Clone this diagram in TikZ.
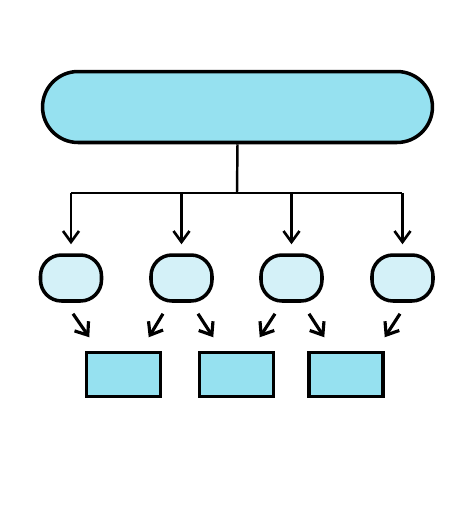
\documentclass[tikz,border=0pt]{standalone}
\usepackage{tikz}
\usetikzlibrary{arrows.meta}

\definecolor{cyanmain}{RGB}{150,225,240}
\definecolor{cyanpale}{RGB}{212,241,248}

\begin{document}
\begin{tikzpicture}[x=0.02cm,y=-0.02cm,
        box/.style={draw,line width=2pt,inner sep=0pt},
        head/.style={box,fill=cyanmain,minimum width=7.8cm,minimum height=1.42cm,rounded corners=0.71cm},
        sub/.style={box,fill=cyanpale,minimum width=1.22cm,minimum height=0.92cm,rounded corners=0.42cm},
        leaf/.style={box,fill=cyanmain,minimum width=1.48cm,minimum height=0.88cm},
        link/.style={line width=1.4pt,-{Straight Barb[length=0.22cm,width=0.32cm,line width=1.5pt]}},
        diag/.style={line width=1.8pt,-{Straight Barb[length=0.22cm,width=0.34cm,line width=1.8pt]}}
    ]
    \useasboundingbox (0,0) rectangle (474,505);
    \node[head](top) at (237.5,107) {};
    \node[sub](s1) at (71,278) {};
    \node[sub](s2) at (181.5,278) {};
    \node[sub](s3) at (291.5,278) {};
    \node[sub](s4) at (402.5,278) {};
    \node[leaf](r1) at (123.5,374.5) {};
    \node[leaf](r2) at (236.5,374.5) {};
    \node[leaf](r3) at (346,374.5) {};
    \coordinate(hub) at (237,193);
    \draw[line width=1.4pt](top.south)--(hub);
    \draw[line width=1.4pt](hub-|s1)--(hub-|s4);
    \draw[link,shorten >=0.18cm](hub-|s1)--(s1.north);
    \draw[link,shorten >=0.18cm](hub-|s2)--(s2.north);
    \draw[link,shorten >=0.18cm](hub-|s3)--(s3.north);
    \draw[link,shorten >=0.18cm](hub-|s4)--(s4.north);
    \draw[diag]([shift={(2,11)}]s1.south)--([shift={(4.5,-13.5)}]r1.north west);
    \draw[diag]([shift={(-18.5,11)}]s2.south)--([shift={(-13.5,-13.5)}]r1.north east);
    \draw[diag]([shift={(16.5,11)}]s2.south)--([shift={(15.5,-13.5)}]r2.north west);
    \draw[diag]([shift={(-16.5,11)}]s3.south)--([shift={(-15.5,-13.5)}]r2.north east);
    \draw[diag]([shift={(17.5,11)}]s3.south)--([shift={(17,-13.5)}]r3.north west);
    \draw[diag]([shift={(-2.5,11)}]s4.south)--([shift={(0,-13.5)}]r3.north east);
\end{tikzpicture}
\end{document}
